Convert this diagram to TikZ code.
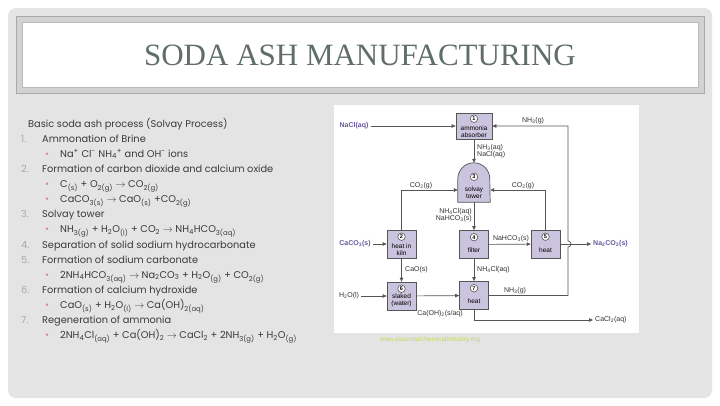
\documentclass[tikz,border=0pt]{standalone}
\usepackage{fontspec}
\setmainfont{Poppins}
\newfontfamily\titlefont{Liberation Serif}
\newfontfamily\diagfont{Liberation Sans}
\usetikzlibrary{positioning,arrows.meta}
\definecolor{panelgray}{HTML}{E4E4E4}
\definecolor{titleband}{HTML}{D2D2D2}
\definecolor{titleedge}{HTML}{A9A9A9}
\definecolor{titlegreen}{HTML}{5F6F67}
\definecolor{bodygray}{HTML}{3A3A3A}
\definecolor{numgray}{HTML}{A8A8A8}
\definecolor{bulletpink}{HTML}{D48C8C}
\definecolor{boxlilac}{HTML}{CBC4DE}
\definecolor{linegray}{HTML}{555555}
\definecolor{feedpurple}{HTML}{6A5A9E}
\definecolor{linkgreen}{HTML}{C8D660}
\newcommand{\chsub}[1]{\textsubscript{#1}}
\newcommand{\chsup}[1]{\textsuperscript{#1}}
\newcommand{\yields}{$\rightarrow$}
\begin{document}
\begin{tikzpicture}[x=1pt,y=-1pt,
  listhead/.style={anchor=base west,inner sep=0pt,text=bodygray,font=\fontsize{9.8}{11}\selectfont},
  listitem/.style={listhead},
  listnum/.style={listhead,text=numgray},
  listdot/.style={listhead,text=bulletpink},
  unit/.style={draw=linegray,fill=boxlilac,line width=0.7pt,minimum width=29pt,minimum height=28pt,inner sep=0pt},
  unitnum/.style={circle,draw=linegray,fill=white,line width=0.6pt,minimum size=7.5pt,inner sep=0pt,font=\diagfont\bfseries\fontsize{5.5}{5.5}\selectfont},
  unittxt/.style={inner sep=0pt,align=center,font=\diagfont\fontsize{6.5}{7}\selectfont},
  flowlbl/.style={inner sep=0pt,align=left,text=black!80,font=\diagfont\fontsize{7}{7.5}\selectfont},
  feed/.style={inner sep=2pt,text=feedpurple,font=\diagfont\bfseries\fontsize{7}{7.5}\selectfont},
  flow/.style={draw=linegray,line width=0.7pt,-{Triangle[length=4pt,width=3.5pt]}}]
\useasboundingbox (0,0) rectangle (720,405);
\fill[white] (0,0) rectangle (720,405);
\fill[panelgray,rounded corners=8pt] (8,8) rectangle (712,398);
\filldraw[fill=titleband,draw=titleedge] (16,16) rectangle (704,93);
\filldraw[fill=white,draw=titleedge!80] (22,22) rectangle (698,87);
\node[font=\titlefont\fontsize{31}{31}\selectfont,text=titlegreen] (Title) at (360,55) {SODA ASH MANUFACTURING};

\node[listhead] (Head) at (28,127.2) {Basic soda ash process (Solvay Process)};
\node[listnum] at (21,142.3) {1.};
\node[listitem] (Step1) at (42,142.3) {Ammonation of Brine};
\node[listdot] at (45,157.4) {\textbullet};
\node[listitem] at (60,157.4) {Na\chsup{+} Cl\chsup{-} NH\chsub{4}\chsup{+} and OH\chsup{-} ions};
\node[listnum] at (21,172.5) {2.};
\node[listitem] (Step2) at (42,172.5) {Formation of carbon dioxide and calcium oxide};
\node[listdot] at (45,187.6) {\textbullet};
\node[listitem] at (60,187.6) {C\chsub{(s)} + O\chsub{2(g)} \yields{} CO\chsub{2(g)}};
\node[listdot] at (45,202.7) {\textbullet};
\node[listitem] at (60,202.7) {CaCO\chsub{3(s)} \yields{} CaO\chsub{(s)} +CO\chsub{2(g)}};
\node[listnum] at (21,217.8) {3.};
\node[listitem] (Step3) at (42,217.8) {Solvay tower};
\node[listdot] at (45,232.9) {\textbullet};
\node[listitem] at (60,232.9) {NH\chsub{3(g)} + H\chsub{2}O\chsub{(l)} + CO\chsub{2} \yields{} NH\chsub{4}HCO\chsub{3(aq)}};
\node[listnum] at (21,248) {4.};
\node[listitem] (Step4) at (42,248) {Separation of solid sodium hydrocarbonate};
\node[listnum] at (21,263.1) {5.};
\node[listitem] (Step5) at (42,263.1) {Formation of sodium carbonate};
\node[listdot] at (45,278.2) {\textbullet};
\node[listitem] at (60,278.2) {2NH\chsub{4}HCO\chsub{3(aq)} \yields{} Na\chsub{2}CO\chsub{3} + H\chsub{2}O\chsub{(g)} + CO\chsub{2(g)}};
\node[listnum] at (21,293.3) {6.};
\node[listitem] (Step6) at (42,293.3) {Formation of calcium hydroxide};
\node[listdot] at (45,308.4) {\textbullet};
\node[listitem] at (60,308.4) {CaO\chsub{(s)} + H\chsub{2}O\chsub{(l)} \yields{} Ca(OH)\chsub{2(aq)}};
\node[listnum] at (21,323.5) {7.};
\node[listitem] (Step7) at (42,323.5) {Regeneration of ammonia};
\node[listdot] at (45,338.6) {\textbullet};
\node[listitem] at (60,338.6) {2NH\chsub{4}Cl\chsub{(aq)} + Ca(OH)\chsub{2} \yields{} CaCl\chsub{2} + 2NH\chsub{3(g)} + H\chsub{2}O\chsub{(g)}};

\fill[white] (334,105) rectangle (639,333);
\node[unit,minimum width=36pt,minimum height=26pt] (Abs) at (474,126) {};
\node[minimum width=32pt,minimum height=39pt,inner sep=0pt] (Tower) at (474,182.5) {};
\filldraw[fill=boxlilac,draw=linegray,line width=0.7pt] (Tower.south west) -- ([yshift=-16pt]Tower.north west)
  arc[start angle=180,end angle=0,radius=16pt] -- (Tower.south east) -- cycle;
\node[unit] (Kiln) at (401.5,244) {};
\node[unit] (Filter) at (474,244.5) {};
\node[unit] (Heat5) at (545.5,244) {};
\node[unit] (Slaker) at (401.5,296) {};
\node[unit] (Heat7) at (474,295.5) {};
\node[unitnum,below=2pt of Abs.north] {1};
\node[unittxt,above=2pt of Abs.south] {ammonia\\absorber};
\node[unitnum,below=10pt of Tower.north] {3};
\node[unittxt,above=3pt of Tower.south] {solvay\\tower};
\node[unitnum,below=3pt of Kiln.north] {2};
\node[unittxt,above=3pt of Kiln.south] {heat in\\kiln};
\node[unitnum,below=3pt of Filter.north] {4};
\node[unittxt,above=6pt of Filter.south] {filter};
\node[unitnum,below=3pt of Heat5.north] {5};
\node[unittxt,above=6pt of Heat5.south] {heat};
\node[unitnum,below=3pt of Slaker.north] {6};
\node[unittxt,above=3pt of Slaker.south] {slaked\\(water)};
\node[unitnum,below=3pt of Heat7.north] {7};
\node[unittxt,above=6pt of Heat7.south] {heat};

\node[feed] (NaCl) at (354,126) {NaCl(aq)};
\node[feed] (CaCO) at (355,244) {CaCO\chsub{3}(s)};
\node[flowlbl,inner sep=2pt] (Water) at (349,296) {H\chsub{2}O(l)};
\node[feed,anchor=west] (Soda) at (591,244) {Na\chsub{2}CO\chsub{3}(s)};
\node[flowlbl,inner sep=2pt,anchor=west] (CaCl) at (593,320) {CaCl\chsub{2}(aq)};
\coordinate (Riser) at (568,244);

\node[flowlbl,anchor=west] at (477,151) {NH\chsub{3}(aq)\\NaCl(aq)};
\node[flowlbl,anchor=east,align=right] at (472,215) {NH\chsub{4}Cl(aq)\\NaHCO\chsub{3}(s)};
\node[flowlbl] at (511,239) {NaHCO\chsub{3}(s)};
\node[flowlbl,anchor=west] at (477,270) {NH\chsub{4}Cl(aq)};
\node[flowlbl,anchor=west] at (405,270) {CaO(s)};
\node[flowlbl] at (440,314) {Ca(OH)\chsub{2}(s/aq)};
\node[flowlbl] at (515,291) {NH\chsub{3}(g)};
\node[flowlbl] at (533,121) {NH\chsub{3}(g)};
\node[flowlbl] at (421,186) {CO\chsub{2}(g)};
\node[flowlbl] at (523,186) {CO\chsub{2}(g)};

\draw[flow] (NaCl) -- (Abs);
\draw[flow] (Abs) -- (Tower);
\draw[flow] (Tower) -- (Filter);
\draw[flow] (Filter) -- (Heat5);
\draw[flow] (Filter) -- (Heat7);
\draw[flow] (CaCO) -- (Kiln);
\draw[flow] (Kiln) -- (Slaker);
\draw[flow] (Water) -- (Slaker);
\draw[flow] (Slaker) -- (Heat7);
\draw[flow] (Kiln.north) |- ([yshift=-7.5pt]Tower.west);
\draw[flow] (Heat5.north) |- ([yshift=-7.5pt]Tower.east);
\draw[flow] (Heat5) -- (Soda);
\draw[flow] (Heat7.east) -| ([yshift=-3pt]Riser) arc[start angle=-90,end angle=90,radius=3pt] |- (Abs.east);
\draw[flow] (Heat7.south) |- (CaCl);

\node[font=\diagfont\fontsize{6.5}{6.5}\selectfont,text=linkgreen] (Link) at (430,340) {www.essentialchemicalindustry.org};
\end{tikzpicture}
\end{document}
